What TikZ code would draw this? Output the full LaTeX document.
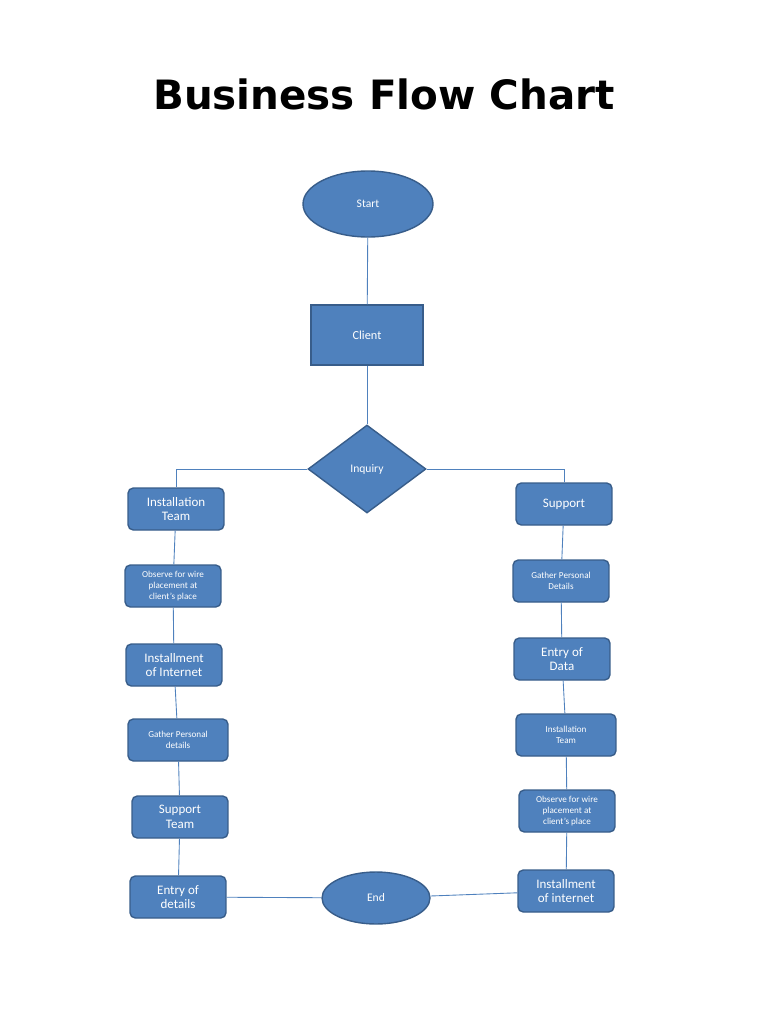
\documentclass[tikz,border=0pt]{standalone}
\usepackage{fontspec}
\setmainfont{Carlito}
\newfontfamily\titlefont{DejaVu Sans}
\usetikzlibrary{shapes.geometric}
\definecolor{boxfill}{HTML}{4F81BD}
\definecolor{boxline}{HTML}{385D8A}
\tikzstyle{blk} = [draw=boxline, fill=boxfill, line width=0.8pt, text=white, align=center]
\tikzstyle{stepnode} = [blk, rectangle, rounded corners=3pt, minimum width=1.92cm, minimum height=0.84cm, font=\fontsize{7.4}{8.4}\selectfont]
\tikzstyle{smallnode} = [stepnode, font=\fontsize{5.2}{6.2}\selectfont]
\tikzstyle{endnode} = [blk, ellipse, font=\fontsize{6.6}{8}\selectfont]
\tikzstyle{link} = [draw=boxfill, line width=0.5pt]
\begin{document}
\begin{tikzpicture}[x=0.02cm,y=-0.02cm]
\useasboundingbox (0,0) rectangle (768,1024);
\node[font=\titlefont\bfseries\fontsize{23}{26}\selectfont] (title) at (384,94) {Business Flow Chart};

\node[endnode, minimum width=2.6cm, minimum height=1.32cm] (start) at (368,204) {Start};
\node[blk, minimum width=2.24cm, minimum height=1.2cm, font=\fontsize{7}{8}\selectfont] (client) at (367,335) {Client};
\node[blk, diamond, aspect=1.34, minimum width=2.36cm, minimum height=1.76cm, inner sep=0pt, font=\fontsize{6.6}{8}\selectfont] (inquiry) at (367,469) {Inquiry};

% left branch
\node[stepnode] (l_team) at (176,509) {Installation\\Team};
\node[smallnode] (l_wire) at (173,586) {Observe for wire\\placement at\\client's place};
\node[stepnode] (l_inet) at (174,665) {Installment\\of Internet};
\node[smallnode, minimum width=2cm] (l_gather) at (178,740) {Gather Personal\\details};
\node[stepnode] (l_support) at (180,817) {Support\\Team};
\node[stepnode] (l_entry) at (178,897) {Entry of\\details};

% right branch
\node[stepnode] (r_support) at (564,504) {Support};
\node[smallnode] (r_gather) at (561,581) {Gather Personal\\Details};
\node[stepnode] (r_entry) at (562,659) {Entry of\\Data};
\node[smallnode, minimum width=2cm] (r_team) at (566,735) {Installation\\Team};
\node[smallnode] (r_wire) at (567,811) {Observe for wire\\placement at\\client's place};
\node[stepnode] (r_inet) at (566,891) {Installment\\of internet};

\node[endnode, minimum width=2.16cm, minimum height=1.04cm] (end) at (376,898) {End};

\draw[link] (start) -- (client);
\draw[link] (client) -- (inquiry);
\draw[link] (inquiry.west) -| (l_team.north);
\draw[link] (inquiry.east) -| (r_support.north);
\draw[link] (l_team) -- (l_wire);
\draw[link] (l_wire) -- (l_inet);
\draw[link] (l_inet) -- (l_gather);
\draw[link] (l_gather) -- (l_support);
\draw[link] (l_support) -- (l_entry);
\draw[link] (r_support) -- (r_gather);
\draw[link] (r_gather) -- (r_entry);
\draw[link] (r_entry) -- (r_team);
\draw[link] (r_team) -- (r_wire);
\draw[link] (r_wire) -- (r_inet);
\draw[link] (l_entry) -- (end);
\draw[link] (end) -- (r_inet);
\end{tikzpicture}
\end{document}
